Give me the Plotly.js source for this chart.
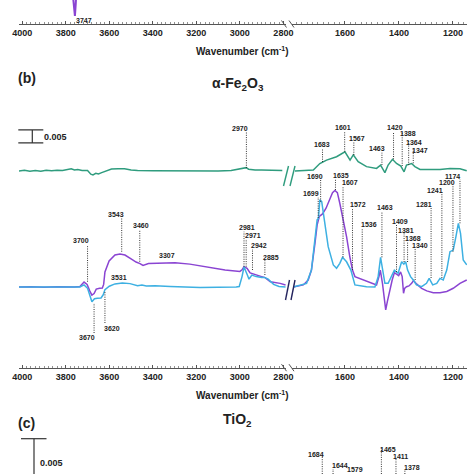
<!DOCTYPE html>
<html><head><meta charset="utf-8">
<script src="https://cdn.plot.ly/plotly-3.0.1.min.js"></script>
<style>html,body{margin:0;padding:0;background:#fff}#chart{width:474px;height:474px}</style>
</head><body><div id="chart"></div>
<script>
// ---------------- DATA ----------------
// Panel (b) alpha-Fe2O3 spectra: wavenumber (cm-1) and absorbance
const purpleWn = [4015,3960,3900,3840,3760,3735,3716,3702,3690,3680,3670,3660,3645,3632,3626,3620,3601,3574,3551,3528,3500,3477,3459,3445,3420,3367,3298,3230,3183,3068,3000,2990,2981,2967,2953,2925,2900,2884,2860,2815,2790,
  1791,1754,1736,1724,1711,1703,1695,1683,1670,1658,1646,1637,1628,1619,1606,1594,1582,1572,1563,1544,1520,1495,1483,1474,1469,1461,1454,1449,1443,1433,1425,1417,1409,1401,1394,1388,1383,1379,1372,1363,1353,1346,1335,1316,1297,1273,1248,1223,1199,1174,1149];
const purpleAbs = [0,0.0001,-0.0001,0.0001,0,0.0002,0.0019,0.0010,-0.0015,-0.0031,-0.0025,-0.0008,-0.0005,-0.0004,0.0010,0.0058,0.0100,0.0123,0.0127,0.0123,0.0108,0.0096,0.0090,0.0083,0.0090,0.0092,0.0093,0.0088,0.0082,0.0065,0.0060,0.0066,0.0078,0.0072,0.0054,0.0048,0.0040,0.0036,0.0020,0.0014,0.0008,
  0,0.0008,0.0027,0.0065,0.0168,0.0238,0.0271,0.0281,0.0303,0.0335,0.0363,0.0371,0.0363,0.0322,0.0258,0.0194,0.0117,0.0065,0.0040,0.0033,0.0023,0.0014,0.0008,0.0040,0.0065,0.0014,-0.0050,-0.0088,-0.0056,-0.0005,0.0027,0.0055,0.0048,0.0044,0.0058,0.0040,-0.0024,-0.0005,0.0001,0.0004,0.0014,0.0025,0.0012,-0.0005,-0.0015,-0.0022,-0.0022,-0.0017,-0.0005,0.0014,0.0027];

const blueWn = [4015,3735,3716,3700,3680,3668,3655,3638,3628,3620,3600,3574,3540,3505,3470,3450,3430,3390,3320,3183,3017,3003,2990,2981,2965,2958,2945,2925,2900,2887,2870,2845,2820,2790,
  1791,1742,1724,1711,1703,1698,1693,1686,1680,1674,1662,1643,1631,1619,1609,1594,1578,1563,1544,1520,1489,1477,1468,1461,1452,1440,1427,1417,1403,1390,1382,1375,1368,1357,1347,1335,1316,1298,1288,1275,1260,1248,1236,1223,1211,1199,1189,1180,1172,1162,1149];
const blueAbs = [0,0,0.0008,-0.0005,-0.0057,-0.0045,-0.0043,-0.0042,-0.0030,-0.0010,0.0003,0.0012,0.0015,0.0013,0.0005,0.0008,0.0004,0.0005,0.0002,-0.0002,0,0.0002,0.0040,0.0077,0.0045,0.0030,0.0046,0.0040,0.0037,0.0037,0.0030,0.0010,0.0002,0,
  0,0.0014,0.0065,0.0194,0.0258,0.0264,0.0335,0.0328,0.0283,0.0232,0.0155,0.0085,0.0072,0.0091,0.0114,0.0097,0.0065,0.0008,0.0004,0.0001,0,0.0040,0.0114,0.0065,0.0014,0.0014,0.0040,0.0065,0.0053,0.0097,0.0088,0.0097,0.0065,0.0040,0.0027,0.0008,0.0001,0.0014,0.0033,0.0008,0.0014,0.0033,0.0027,0.0065,0.0136,0.0142,0.0194,0.0245,0.0206,0.0104,0.0085];

const greenWn = [4015,3990,3965,3940,3915,3890,3865,3840,3815,3790,3775,3760,3745,3725,3700,3685,3675,3662,3650,3635,3615,3590,3560,3530,3500,3470,3400,3300,3200,3100,3040,3000,2985,2971,2960,2930,2900,2850,2805,
  1785,1717,1693,1668,1631,1600,1581,1569,1551,1520,1483,1468,1452,1440,1424,1409,1393,1381,1372,1353,1341,1322,1248,1211,1174,1149];
const greenAbs = [0,0.0003,-0.0001,0.0002,-0.0001,0.0003,0.0001,0.0003,0.0002,0.0005,0.0009,0.0004,0.0006,0.0002,0.0002,-0.0012,-0.0015,-0.0009,-0.0011,-0.0006,0.0001,0.0008,0.0009,0.0009,0.0004,0.0002,0.0001,0,0.0001,0,0.0002,0.0008,0.0010,0.0013,0.0007,0.0004,0.0004,0.0003,0.0002,
  0,0.0004,0.0029,0.0042,0.0055,0.0074,0.0042,0.0062,0.0036,0.0017,0.0010,0.0023,-0.0006,0.0023,0.0045,0.0029,0.0019,-0.0003,0.0023,0.0029,0.0017,0.0006,0.0006,0.0010,0.0009,0.0001];

// Panel (a) remnant: purple band at 3747 (tip only)
const aPurpleWn = [3772,3764,3758,3754,3750];
const aPurpleAbs = [0.015,0.008,0.0031,0.008,0.015];

// Peak labels
const greenPeaks = ['2970','1683','1601','1567','1463','1420','1388','1364','1347'];
const bPeaksLeft = ['3700','3543','3460','3670','3620','2981','2971','2942','2885'];
const bPeaksRight = ['1690','1699','1635','1607','1572','1536','1463','1409','1381','1368','1340','1281','1241','1200','1174'];
const bTextOnly = ['3307','3531'];
const cPeaks = ['1684','1644','1465','1411','1378'];
const cTextOnly = ['1579'];
const tickStep = 200;
const minorStep = 20;
const scaleBarValue = 0.005;
const greenOffset = 0.0446;

// ---------------- PLACEMENT (pixels: [text dx, text y, line top, line bottom]) ----------------
const greenPlace = [[-6,128.3,132,168],[-1,145,149,162],[-2,127.7,131.7,151.7],[3,138,141.7,155],[-5,148.3,152.7,165],[1,127.7,131.7,159.3],[6,133.3,131.7,166],[5,142.7,140,165],[7,150.7,148.3,163.3]];
const bLeftPlace = [[-7,240.7,245,281.7],[-5.6,214.3,218,251.7],[1,225.7,230,261.7],[-7,337.7,303,333],[6.6,328.3,292,323],[3.4,227.3,231.7,266.7],[6.6,235.7,239,266.7],[6.6,245.7,249,270],[6.4,257.3,260,275]];
const bRightPlace = [[-6,176.7,180,201.7],[-7,193.3,197,218],[6,175,179,190],[7,182.7,186.7,257.3],[6,205,209,270],[7,224,228,271.7],[3,207.3,211.7,257.3],[3,221.5,225,272],[2,230,233,262],[5.5,238,242,262],[4.5,245.5,249,280],[-7,205,208,278],[-7,190,192,278],[-6,182.7,185,251.7],[-7,176,179.3,223.3]];
const bTextOnlyPlace = [[-6,255],[-5,277.7]];
const cPlace = [[-6.6,454.3,457,474],[6.7,465.7,469,474],[6.6,449.3,446.7,474],[5,456,458,474],[7,467.7,470,474]];
const cTextOnlyPlace = [[4,469]];

// ---------------- BUILD ----------------
const FONT = 'Liberation Sans, Arial, Helvetica, sans-serif';
const H = 474, W = 474;
const py = p => 1 - p / H;
const px = p => p / W;
const PURPLE = '#8a44d2', BLUE = '#3db0e2', GREEN = '#2f9c7e', INK = '#222';

function split(wn, ab, off) {
  const L = {x: [], y: []}, R = {x: [], y: []};
  wn.forEach((w, i) => { const t = w > 2000 ? L : R; t.x.push(w); t.y.push(ab[i] + off); });
  return [L, R];
}
const traces = [];
[[purpleWn, purpleAbs, 0, PURPLE], [blueWn, blueAbs, 0, BLUE], [greenWn, greenAbs, greenOffset, GREEN]].forEach(([w, a, o, c]) => {
  const [L, R] = split(w, a, o);
  traces.push({x: L.x, y: L.y, xaxis: 'x', yaxis: 'y', type: 'scatter', mode: 'lines', line: {color: c, width: 1.5}, hoverinfo: 'skip', showlegend: false});
  traces.push({x: R.x, y: R.y, xaxis: 'x2', yaxis: 'y', type: 'scatter', mode: 'lines', line: {color: c, width: 1.5}, hoverinfo: 'skip', showlegend: false});
});
traces.push({x: aPurpleWn, y: aPurpleAbs, xaxis: 'x3', yaxis: 'y3', type: 'scatter', mode: 'lines', line: {color: PURPLE, width: 2}, hoverinfo: 'skip', showlegend: false});
traces.push({x: [], y: [], xaxis: 'x4', yaxis: 'y3', type: 'scatter', mode: 'lines', hoverinfo: 'skip', showlegend: false});

const annotations = [], shapes = [];
const DOT = {color: '#333', width: 1, dash: '1px,1.3px'};
function addPeaks(labels, place, xref) {
  labels.forEach((lb, i) => {
    const [dx, ty, lt, lbm] = place[i];
    const w = +lb;
    annotations.push({xref: xref, yref: 'paper', x: w, y: py(ty), xshift: dx, text: '<b>' + lb + '</b>', showarrow: false,
      xanchor: 'center', yanchor: 'middle', font: {family: FONT, size: 7, color: INK}});
    if (lt !== undefined) shapes.push({type: 'line', xref: xref, yref: 'paper', x0: w, x1: w, y0: py(lbm), y1: py(lt), line: DOT});
  });
}
addPeaks(greenPeaks.slice(0, 1), greenPlace.slice(0, 1), 'x');
addPeaks(greenPeaks.slice(1), greenPlace.slice(1), 'x2');
addPeaks(bPeaksLeft, bLeftPlace, 'x');
addPeaks(bPeaksRight, bRightPlace, 'x2');
addPeaks(bTextOnly, bTextOnlyPlace, 'x');
addPeaks(cPeaks, cPlace, 'x2');
addPeaks(cTextOnly, cTextOnlyPlace, 'x2');
annotations.push({xref: 'x3', yref: 'paper', x: 3747, xshift: 7, y: py(14.7), text: '<b>3747</b>', showarrow: false, font: {family: FONT, size: 7, color: INK}});

function txt(x, y, t, size) {
  annotations.push({xref: 'paper', yref: 'paper', x: px(x), y: py(y), text: t, showarrow: false, xanchor: 'center', yanchor: 'middle', font: {family: FONT, size: size, color: INK}});
}
txt(26.5, 78.3, '<b>(b)</b>', 14);
txt(238, 84, '<b>α-Fe<sub>2</sub>O<sub>3</sub></b>', 14);
txt(26, 423.3, '<b>(c)</b>', 14);
txt(237, 420, '<b>TiO<sub>2</sub></b>', 14);
txt(242.5, 51, '<b>Wavenumber (cm<sup>-1</sup>)</b>', 10);
txt(242.5, 395, '<b>Wavenumber (cm<sup>-1</sup>)</b>', 10);
txt(55, 137.3, '<b>0.005</b>', 9);
txt(51, 462.7, '<b>0.005</b>', 9);

const BAR = {color: '#333', width: 1.2};
// scale bar (b) in data units
const sb0 = 0.0554, sb1 = sb0 + scaleBarValue;
shapes.push({type: 'line', xref: 'paper', yref: 'y', x0: px(32.3), x1: px(32.3), y0: sb0, y1: sb1, line: BAR});
shapes.push({type: 'line', xref: 'paper', yref: 'y', x0: px(18.3), x1: px(43.3), y0: sb0, y1: sb0, line: BAR});
shapes.push({type: 'line', xref: 'paper', yref: 'y', x0: px(18.3), x1: px(43.3), y0: sb1, y1: sb1, line: BAR});
// scale bar (c)
shapes.push({type: 'line', xref: 'paper', yref: 'paper', x0: px(34), x1: px(34), y0: py(438.7), y1: py(480), line: BAR});
shapes.push({type: 'line', xref: 'paper', yref: 'paper', x0: px(21), x1: px(46.5), y0: py(438.7), y1: py(438.7), line: BAR});

// axis break marks
function slash(x0, y0, x1, y1, color, w) {
  shapes.push({type: 'line', xref: 'paper', yref: 'paper', x0: px(x0), y0: py(y0), x1: px(x1), y1: py(y1), line: {color: color, width: w}});
}
[24, 367.7].forEach(a => { slash(281.5, a - 3.5, 286.5, a + 3.5, '#555', 1); slash(289, a - 3.5, 294, a + 3.5, '#555', 1); });
slash(283.5, 186, 288.5, 166, GREEN, 1.4); slash(290, 186, 295, 166, GREEN, 1.4);
slash(285.5, 300, 289.5, 280, '#24245e', 1.4); slash(291, 300, 295, 280, '#24245e', 1.4);

const axBase = {showgrid: false, zeroline: false, showline: true, linecolor: '#555', linewidth: 1,
  ticks: 'inside', ticklen: 3, tickwidth: 1, tickcolor: '#555', dtick: tickStep, tick0: 0,
  minor: {dtick: minorStep, ticks: 'inside', ticklen: 2, tickwidth: 0.8, tickcolor: '#777'},
  tickfont: {family: FONT, size: 9, weight: 'bold', color: INK}, fixedrange: true};
const leftDom = [px(19), px(286)], rightDom = [px(292), px(467)];
const leftRange = [4015, 2788], rightRange = [1796, 1148];

const layout = {
  width: 474, height: 474, margin: {l: 0, r: 0, t: 0, b: 0}, paper_bgcolor: '#fff', plot_bgcolor: 'rgba(0,0,0,0)',
  showlegend: false,
  xaxis: Object.assign({}, axBase, {domain: leftDom, range: leftRange, anchor: 'y'}),
  xaxis2: Object.assign({}, axBase, {domain: rightDom, range: rightRange, anchor: 'y'}),
  xaxis3: Object.assign({}, axBase, {domain: leftDom, range: leftRange, anchor: 'y3'}),
  xaxis4: Object.assign({}, axBase, {domain: rightDom, range: rightRange, anchor: 'y3'}),
  yaxis: {domain: [py(367.7), py(60)], range: [(287 - 367.7) / 2600, (287 - 60) / 2600], visible: false, fixedrange: true},
  yaxis3: {domain: [py(24), 1], range: [0, 24 / 2600], visible: false, fixedrange: true},
  annotations: annotations, shapes: shapes
};
Plotly.newPlot('chart', traces, layout, {staticPlot: true, displayModeBar: false});
</script>
</body></html>
